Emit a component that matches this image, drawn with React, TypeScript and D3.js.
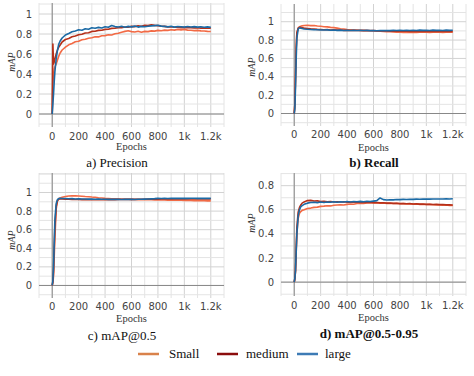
import React from "react";
import * as d3 from "d3";

const EPOCHS = [0,5,10,15,20,30,40,50,60,75,
  100,125,150,175,200,225,250,275,300,325,350,375,400,425,450,475,500,525,550,575,
  600,625,650,675,700,725,750,775,800,825,850,875,900,925,950,975,1000,1025,1050,1075,
  1100,1125,1150,1175,1200];

// a) Precision
const PREC_SMALL = [0,0.3,0.4,0.45,0.47,0.5,0.54,0.58,0.61,0.64,
  0.668,0.692,0.705,0.722,0.728, 0.742,0.748,0.758,0.762,0.772, 0.771,0.782,0.784,0.792,0.79,
  0.802,0.808,0.818,0.826,0.832, 0.824,0.82,0.827,0.818,0.826, 0.824,0.831,0.829,0.836,0.833,
  0.839,0.836,0.842,0.839,0.846, 0.841,0.845,0.839,0.838,0.834, 0.836,0.831,0.83,0.826,0.825];
const PREC_MEDIUM = [0,0.7,0.5,0.52,0.55,0.6,0.64,0.67,0.69,0.72,
  0.745,0.755,0.772,0.78,0.792, 0.798,0.81,0.812,0.826,0.828, 0.836,0.838,0.846,0.848,0.856,
  0.858,0.864,0.862,0.87,0.868, 0.876,0.874,0.882,0.878,0.886, 0.884,0.891,0.886,0.884,0.878,
  0.876,0.871,0.872,0.867,0.868, 0.864,0.866,0.862,0.864,0.861, 0.862,0.859,0.861,0.858,0.859];
const PREC_LARGE = [0,0.1,0.2,0.32,0.42,0.55,0.64,0.7,0.73,0.76,
  0.79,0.805,0.822,0.83,0.842, 0.838,0.852,0.848,0.862,0.858, 0.866,0.86,0.872,0.868,0.885,
  0.874,0.87,0.878,0.868,0.876, 0.871,0.879,0.869,0.876,0.872, 0.878,0.881,0.884,0.887,0.879,
  0.876,0.871,0.877,0.869,0.875, 0.872,0.869,0.875,0.87,0.874, 0.869,0.873,0.868,0.871,0.867];

// b) Recall
const REC_SMALL = [0,0.1,0.4,0.72,0.87,0.93,0.945,0.95,0.955,0.958,
  0.962,0.957,0.959,0.953,0.951, 0.946,0.944,0.938,0.936,0.93, 0.924,0.92,0.914,0.912,0.908,
  0.909,0.906,0.907,0.904,0.905, 0.902,0.899,0.897,0.895,0.892, 0.89,0.889,0.887,0.886,0.884,
  0.886,0.884,0.885,0.883,0.886, 0.885,0.887,0.884,0.886,0.885, 0.887,0.884,0.886,0.885,0.886];
const REC_MEDIUM = [0,0.1,0.4,0.7,0.88,0.93,0.94,0.938,0.935,0.93,
  0.926,0.922,0.92,0.917,0.915, 0.913,0.914,0.91,0.911,0.908, 0.909,0.906,0.907,0.905,0.906,
  0.904,0.905,0.903,0.904,0.902, 0.903,0.9,0.901,0.899,0.9, 0.898,0.899,0.897,0.898,0.896,
  0.897,0.895,0.896,0.894,0.896, 0.895,0.896,0.894,0.895,0.896, 0.894,0.896,0.895,0.894,0.895];
const REC_LARGE = [0,0.05,0.3,0.6,0.82,0.92,0.935,0.93,0.926,0.921,
  0.918,0.916,0.913,0.912,0.91, 0.909,0.911,0.907,0.909,0.906, 0.908,0.905,0.907,0.904,0.906,
  0.905,0.907,0.904,0.906,0.903, 0.905,0.902,0.904,0.903,0.905, 0.903,0.906,0.904,0.907,0.905,
  0.906,0.904,0.907,0.905,0.908, 0.906,0.907,0.905,0.908,0.906, 0.907,0.905,0.908,0.906,0.907];

// c) mAP@0.5
const MAP50_SMALL = [0,0.03,0.1,0.3,0.5,0.82,0.91,0.935,0.942,0.95,
  0.958,0.962,0.965,0.964,0.962, 0.96,0.957,0.955,0.951,0.948, 0.944,0.941,0.937,0.936,0.933,
  0.932,0.93,0.929,0.928,0.927, 0.926,0.925,0.924,0.924,0.923, 0.922,0.922,0.921,0.92,0.92,
  0.919,0.918,0.918,0.917,0.916, 0.916,0.915,0.914,0.914,0.913, 0.912,0.912,0.911,0.91,0.91];
const MAP50_MEDIUM = [0,0.04,0.15,0.4,0.62,0.85,0.915,0.928,0.932,0.93,
  0.928,0.927,0.926,0.925,0.926, 0.924,0.925,0.923,0.924,0.922, 0.923,0.922,0.924,0.923,0.925,
  0.924,0.926,0.925,0.927,0.926, 0.927,0.926,0.928,0.927,0.928, 0.929,0.928,0.93,0.929,0.931,
  0.93,0.932,0.931,0.932,0.931, 0.932,0.931,0.933,0.932,0.933, 0.932,0.933,0.932,0.933,0.932];
const MAP50_LARGE = [0,0.05,0.2,0.45,0.7,0.88,0.925,0.935,0.938,0.936,
  0.935,0.933,0.934,0.931,0.932, 0.93,0.931,0.929,0.93,0.928, 0.929,0.927,0.928,0.926,0.927,
  0.926,0.928,0.925,0.927,0.926, 0.927,0.925,0.928,0.927,0.929, 0.93,0.932,0.934,0.937,0.936,
  0.937,0.936,0.938,0.937,0.938, 0.937,0.938,0.937,0.939,0.938, 0.937,0.938,0.937,0.938,0.937];

// d) mAP@0.5-0.95
const MAP5095_SMALL = [0,0.02,0.1,0.25,0.4,0.53,0.57,0.585,0.595,0.6,
  0.61,0.614,0.62,0.622,0.628, 0.63,0.634,0.632,0.638,0.64, 0.642,0.64,0.645,0.648,0.646,
  0.652,0.655,0.653,0.657,0.656, 0.659,0.657,0.655,0.656,0.653, 0.654,0.652,0.653,0.65,0.651,
  0.649,0.65,0.647,0.648,0.645, 0.646,0.644,0.645,0.642,0.641, 0.64,0.638,0.639,0.636,0.635];
const MAP5095_MEDIUM = [0,0.03,0.1,0.28,0.45,0.58,0.62,0.64,0.655,0.665,
  0.676,0.678,0.673,0.674,0.669, 0.671,0.667,0.669,0.665,0.667, 0.664,0.666,0.663,0.665,0.662,
  0.664,0.661,0.663,0.66,0.662, 0.659,0.66,0.657,0.658,0.655, 0.656,0.653,0.654,0.651,0.652,
  0.65,0.651,0.648,0.649,0.647, 0.648,0.645,0.646,0.644,0.645, 0.643,0.644,0.641,0.642,0.64];
const MAP5095_LARGE = [0,0.03,0.1,0.25,0.4,0.55,0.6,0.625,0.635,0.645,
  0.655,0.66,0.662,0.659,0.664, 0.661,0.665,0.662,0.666,0.663, 0.667,0.664,0.668,0.665,0.669,
  0.666,0.67,0.667,0.671,0.668, 0.672,0.676,0.698,0.684,0.681, 0.683,0.682,0.685,0.684,0.686,
  0.685,0.687,0.686,0.688,0.687, 0.688,0.689,0.688,0.69,0.689, 0.69,0.689,0.691,0.69,0.691];

const SERIES_NAMES = ["Small", "medium", "large"];
const X_TICKS = [0, 200, 400, 600, 800, 1000, 1200];
const X_TICK_LABELS = ["0", "200", "400", "600", "800", "1k", "1.2k"];
const Y_TICKS_FULL = [0, 0.2, 0.4, 0.6, 0.8, 1];
const Y_TICKS_D = [0, 0.2, 0.4, 0.6, 0.8];
const PANEL_TITLES = ["a) Precision", "b) Recall", "c) mAP@0.5", "d) mAP@0.5-0.95"];

const LINE_COLORS = ["#f26a45", "#b5301a", "#1b6aa5"];
const LEGEND_COLORS = ["#d9824b", "#8b0d0d", "#3d7bb5"];

const PANELS = [
  { series: [PREC_SMALL, PREC_MEDIUM, PREC_LARGE], yTicks: Y_TICKS_FULL, yDomain: [-0.13, 1.11],
    left: 39, right: 224, top: 3, bottom: 127, labelX: 32, mapX: 11, mapY: 62,
    xTickY: 140, epochsY: 150, titleX: 117, titleY: 167, bold: false },
  { series: [REC_SMALL, REC_MEDIUM, REC_LARGE], yTicks: Y_TICKS_FULL, yDomain: [-0.136, 1.193],
    left: 281, right: 466, top: 4, bottom: 126, labelX: 274, mapX: 251, mapY: 67,
    xTickY: 138, epochsY: 151, titleX: 374, titleY: 167, bold: true },
  { series: [MAP50_SMALL, MAP50_MEDIUM, MAP50_LARGE], yTicks: Y_TICKS_FULL, yDomain: [-0.135, 1.21],
    left: 39, right: 224, top: 173, bottom: 298, labelX: 32, mapX: 11, mapY: 240,
    xTickY: 310, epochsY: 322, titleX: 122, titleY: 340, bold: false },
  { series: [MAP5095_SMALL, MAP5095_MEDIUM, MAP5095_LARGE], yTicks: Y_TICKS_D, yDomain: [-0.115, 0.905],
    left: 281, right: 466, top: 173, bottom: 296, labelX: 274, mapX: 251, mapY: 223,
    xTickY: 308.5, epochsY: 320.5, titleX: 369, titleY: 337.5, bold: true },
];

const SERIF = "'Liberation Serif', 'DejaVu Serif', serif";
const SANS = "'DejaVu Sans', sans-serif";

function Panel({ p, idx }: { p: any; idx: number }) {
  const x = d3.scaleLinear().domain([-100, 1300]).range([p.left, p.right]);
  const y = d3.scaleLinear().domain(p.yDomain).range([p.bottom, p.top]);
  const vGrid = d3.range(-100, 1301, 100);
  const hGrid = d3.range(-1, Math.floor(p.yDomain[1] * 10 + 1e-6) + 1).map((v) => v / 10);
  const line = d3.line<number>().x((_, i) => x(EPOCHS[i])).y((d) => y(d));
  return (
    <g>
      {vGrid.map((v) => (
        <line key={"v" + v} x1={x(v)} x2={x(v)} y1={p.top} y2={p.bottom}
          stroke={v % 200 === 0 ? "#d2d2d2" : "#e4e4e4"} strokeWidth={1} />
      ))}
      {hGrid.map((v) => (
        <line key={"h" + v} x1={p.left} x2={p.right} y1={y(v)} y2={y(v)}
          stroke={Math.round(v * 10) % 2 === 0 ? "#d2d2d2" : "#e4e4e4"} strokeWidth={1} />
      ))}
      <line x1={x(0)} x2={x(0)} y1={p.top} y2={p.bottom} stroke="#888" strokeWidth={1} />
      <line x1={p.left} x2={p.right} y1={y(0)} y2={y(0)} stroke="#888" strokeWidth={1} />
      {p.series.map((s: number[], i: number) => (
        <path key={i} d={line(s) || ""} fill="none" stroke={LINE_COLORS[i]}
          strokeWidth={1.6} strokeLinejoin="round" />
      ))}
      {p.yTicks.map((t: number) => (
        <text key={"yt" + t} x={p.labelX} y={y(t)} dy="0.35em" textAnchor="end"
          fontFamily={SANS} fontSize={10} fill="#444">{String(t)}</text>
      ))}
      {X_TICKS.map((t, i) => (
        <text key={"xt" + t} x={x(t)} y={p.xTickY} textAnchor="middle"
          fontFamily={SANS} fontSize={10} fill="#444">{X_TICK_LABELS[i]}</text>
      ))}
      <text transform={`translate(${p.mapX},${p.mapY}) rotate(-90)`} textAnchor="middle"
        dy="0.35em" fontFamily={SERIF} fontStyle="italic" fontSize={10} fill="#333">mAP</text>
      <text x={x(600)} y={p.epochsY} textAnchor="middle" fontFamily={SERIF}
        fontSize={10.5} fill="#333">Epochs</text>
      <text x={p.titleX} y={p.titleY} textAnchor="middle" fontFamily={SERIF}
        fontSize={13} fontWeight={p.bold ? "bold" : "normal"} fill="#111">{PANEL_TITLES[idx]}</text>
    </g>
  );
}

export default function App() {
  const legendItems = [
    { x1: 138, x2: 159, tx: 169 },
    { x1: 217, x2: 238, tx: 246 },
    { x1: 297, x2: 318, tx: 325 },
  ];
  return (
    <svg width={474} height={376} style={{ position: "absolute", left: 0, top: 0, background: "#fff" }}>
      <rect width={474} height={376} fill="#fff" />
      {PANELS.map((p, i) => <Panel key={i} p={p} idx={i} />)}
      {SERIES_NAMES.map((name, i) => (
        <g key={name}>
          <line x1={legendItems[i].x1} x2={legendItems[i].x2} y1={354} y2={354}
            stroke={LEGEND_COLORS[i]} strokeWidth={2.5} />
          <text x={legendItems[i].tx} y={358} fontFamily={SERIF} fontSize={13} fill="#111">{name}</text>
        </g>
      ))}
    </svg>
  );
}
